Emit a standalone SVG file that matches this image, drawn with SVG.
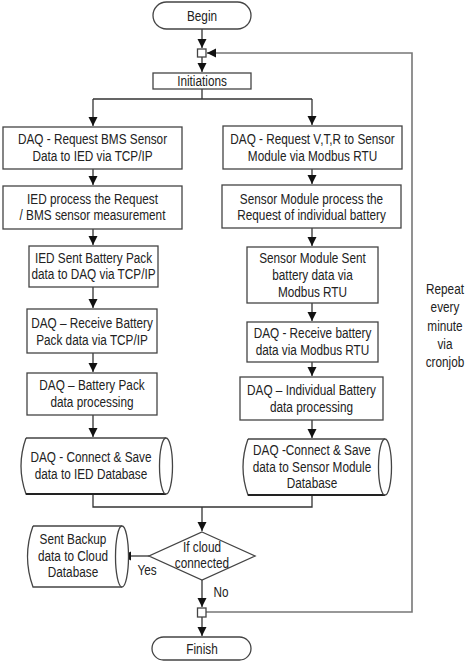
<svg xmlns="http://www.w3.org/2000/svg" width="474" height="664" viewBox="0 0 474 664">
<defs>
<marker id="ah" markerWidth="10" markerHeight="10" refX="9" refY="5" orient="auto" markerUnits="userSpaceOnUse">
<path d="M0,0.5 L9,5 L0,9.5 Z" fill="#111"/>
</marker>
<style>
.b{fill:#fff;stroke:#444;stroke-width:1.3}
.t{font-family:"Liberation Sans",Arial,sans-serif;font-size:14.2px;fill:#222;text-anchor:middle}
.c{fill:none;stroke:#333;stroke-width:1.3}
.a{fill:none;stroke:#333;stroke-width:1.3;marker-end:url(#ah)}
.loop{fill:none;stroke:#777;stroke-width:1.6}
</style>
</defs>
<rect width="474" height="664" fill="#fff"/>

<g id="connectors">
<path class="a" d="M202,29 V48"/>
<path class="a" d="M202,57 V72"/>
<path class="c" d="M202,89 V99 M93,99 H312"/>
<path class="a" d="M93,99 V126"/>
<path class="a" d="M312,99 V125"/>
<path class="a" d="M93,169 V185"/>
<path class="a" d="M93,229 V245"/>
<path class="a" d="M93,287 V308"/>
<path class="a" d="M93,353 V372"/>
<path class="a" d="M93,415 V437"/>
<path class="a" d="M312,169 V184"/>
<path class="a" d="M312,228 V246"/>
<path class="a" d="M312,303 V321"/>
<path class="a" d="M312,362 V376"/>
<path class="a" d="M312,420 V438"/>
<path class="c" d="M93,495 V507 H312 V496"/>
<path class="a" d="M202,507 V531"/>
<path class="a" d="M149,556 H122"/>
<path class="a" d="M202,580 V607"/>
<path class="a" d="M202,617 V636"/>
<path class="loop" d="M206,612 H412 V53 H216"/>
<path class="a" d="M216,53 H207"/>
<text class="t" transform="translate(147,575) scale(.83,1)">Yes</text>
<text class="t" transform="translate(221,597) scale(.83,1)">No</text>
</g>

<g id="begin">
<rect class="b" x="153" y="2" width="98" height="27" rx="13.5"/>
<text class="t" transform="translate(202,21) scale(.83,1)">Begin</text>
</g>
<g id="junction1">
<rect class="b" x="197.5" y="49" width="8.5" height="8"/>
</g>
<g id="initiations">
<rect class="b" x="153" y="73" width="98" height="16"/>
<text class="t" transform="translate(202,86) scale(.83,1)">Initiations</text>
</g>

<g id="l1">
<rect class="b" x="3" y="127" width="179" height="42"/>
<text class="t" transform="translate(92.5,144) scale(.83,1)">DAQ - Request BMS Sensor</text>
<text class="t" transform="translate(92.5,161) scale(.83,1)">Data to IED via TCP/IP</text>
</g>
<g id="l2">
<rect class="b" x="3" y="186" width="179" height="43"/>
<text class="t" transform="translate(92.5,204) scale(.83,1)">IED process the Request</text>
<text class="t" transform="translate(92.5,220) scale(.83,1)">/ BMS sensor measurement</text>
</g>
<g id="l3">
<rect class="b" x="29" y="246" width="129" height="41"/>
<text class="t" transform="translate(93.5,263) scale(.83,1)">IED Sent Battery Pack</text>
<text class="t" transform="translate(93.5,279) scale(.83,1)">data to DAQ via TCP/IP</text>
</g>
<g id="l4">
<rect class="b" x="27" y="309" width="130" height="44"/>
<text class="t" transform="translate(92,328) scale(.83,1)">DAQ – Receive Battery</text>
<text class="t" transform="translate(92,345) scale(.83,1)">Pack data via TCP/IP</text>
</g>
<g id="l5">
<rect class="b" x="27" y="373" width="130" height="42"/>
<text class="t" transform="translate(92,390) scale(.83,1)">DAQ – Battery Pack</text>
<text class="t" transform="translate(92,407) scale(.83,1)">data processing</text>
</g>
<g id="l6">
<path class="b" d="M26,438 H166 M166,494 H26 Q16,466 26,438" />
<path d="M26,494 H166" stroke="#222" stroke-width="2.2"/>
<ellipse class="b" cx="166" cy="466" rx="6.5" ry="28" fill="#fff"/>
<text class="t" transform="translate(91,462) scale(.83,1)">DAQ - Connect &amp; Save</text>
<text class="t" transform="translate(91,479) scale(.83,1)">data to IED Database</text>
</g>

<g id="r1">
<rect class="b" x="223" y="126" width="179" height="43"/>
<text class="t" transform="translate(312.5,144) scale(.83,1)">DAQ - Request V,T,R to Sensor</text>
<text class="t" transform="translate(312.5,161) scale(.83,1)">Module via Modbus RTU</text>
</g>
<g id="r2">
<rect class="b" x="222" y="185" width="179" height="43"/>
<text class="t" transform="translate(311.5,203.5) scale(.83,1)">Sensor Module process the</text>
<text class="t" transform="translate(311.5,219.5) scale(.83,1)">Request of individual battery</text>
</g>
<g id="r3">
<rect class="b" x="247" y="247" width="131" height="56"/>
<text class="t" transform="translate(312.5,263) scale(.83,1)">Sensor Module Sent</text>
<text class="t" transform="translate(312.5,280) scale(.83,1)">battery data via</text>
<text class="t" transform="translate(312.5,297) scale(.83,1)">Modbus RTU</text>
</g>
<g id="r4">
<rect class="b" x="247" y="322" width="131" height="40"/>
<text class="t" transform="translate(312.5,338) scale(.83,1)">DAQ - Receive battery</text>
<text class="t" transform="translate(312.5,355) scale(.83,1)">data via Modbus RTU</text>
</g>
<g id="r5">
<rect class="b" x="240" y="377" width="143" height="43"/>
<text class="t" transform="translate(311.5,395) scale(.83,1)">DAQ – Individual Battery</text>
<text class="t" transform="translate(311.5,412) scale(.83,1)">data processing</text>
</g>
<g id="r6">
<path class="b" d="M248,439 H385 M385,495 H248 Q238,467 248,439"/>
<path d="M248,495 H385" stroke="#222" stroke-width="2.2"/>
<ellipse class="b" cx="385" cy="467" rx="6.5" ry="28" fill="#fff"/>
<text class="t" transform="translate(312,455) scale(.83,1)">DAQ -Connect &amp; Save</text>
<text class="t" transform="translate(312,472) scale(.83,1)">data to Sensor Module</text>
<text class="t" transform="translate(312,488) scale(.83,1)">Database</text>
</g>

<g id="decision">
<path class="b" d="M202,532 L255,556 L202,580 L149,556 Z"/>
<text class="t" transform="translate(202,551.5) scale(.83,1)">If cloud</text>
<text class="t" transform="translate(202,568) scale(.83,1)">connected</text>
</g>
<g id="cloud">
<path class="b" d="M33,526 H122 M122,587 H33 Q22,556.5 33,526"/>
<ellipse class="b" cx="122" cy="556.5" rx="6.5" ry="30.5"/>
<text class="t" transform="translate(73,544) scale(.83,1)">Sent Backup</text>
<text class="t" transform="translate(73,561) scale(.83,1)">data to Cloud</text>
<text class="t" transform="translate(73,577) scale(.83,1)">Database</text>
</g>
<g id="junction2">
<rect class="b" x="197.5" y="608" width="8.5" height="9"/>
</g>
<g id="finish">
<rect class="b" x="152" y="637" width="99" height="23" rx="11.5"/>
<text class="t" transform="translate(202,654) scale(.83,1)">Finish</text>
</g>
<g id="note">
<text class="t" transform="translate(445,294) scale(.83,1)">Repeat</text>
<text class="t" transform="translate(445,312) scale(.83,1)">every</text>
<text class="t" transform="translate(445,331) scale(.83,1)">minute</text>
<text class="t" transform="translate(445,349) scale(.83,1)">via</text>
<text class="t" transform="translate(445,367) scale(.83,1)">cronjob</text>
</g>
</svg>
